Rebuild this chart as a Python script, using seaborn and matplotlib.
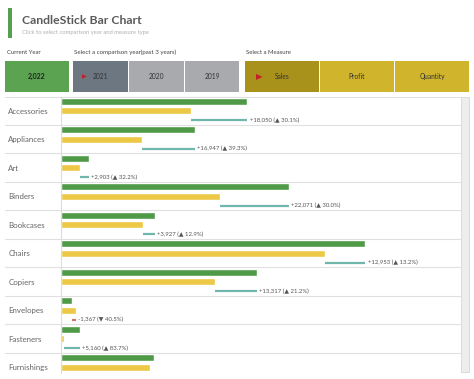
import numpy as np
import pandas as pd
import matplotlib.pyplot as plt
from matplotlib.patches import Rectangle
import seaborn as sns

# Data
categories = ['Accessories', 'Appliances', 'Art', 'Binders', 'Bookcases',
              'Chairs', 'Copiers', 'Envelopes', 'Fasteners', 'Furnishings']
sales_2022 = [59650, 42867, 8983, 72951, 30167, 97433, 62597, 3433, 6120, 29760]
sales_2021 = [41600, 25920, 6080, 50880, 26240, 84480, 49280, 4800, 960, 28480]
diff_labels = ['+18,050', '+16,947', '+2,903', '+22,071', '+3,927',
               '+12,953', '+13,317', '-1,367', '+5,160', '+1,280']
pct_labels = ['▲ 30.1%', '▲ 39.3%', '▲ 32.2%', '▲ 30.0%', '▲ 12.9%',
              '▲ 13.2%', '▲ 21.2%', '▼ 40.5%', '▲ 83.7%', '▲ 4.5%']

current_year = '2,022'
compare_years = ['2021', '2020', '2019']
measures = ['Sales', 'Profit', 'Quantity']

GREEN = '#4f9a47'
YELLOW = '#ecc846'
TEAL = '#6fb6ac'
RED = '#d0766a'

sns.set_style('white')
plt.rcParams['font.family'] = ['Lato', 'DejaVu Sans']

W, H = 474, 379
fig = plt.figure(figsize=(W / 100, H / 100), dpi=100)


def fx(x):
    return x / W


def fy(y):
    return 1 - y / H


def box(x0, y0, x1, y1, color, edge='none'):
    fig.add_artist(Rectangle((fx(x0), fy(y1)), (x1 - x0) / W, (y1 - y0) / H,
                             transform=fig.transFigure, facecolor=color,
                             edgecolor=edge, lw=0.6))


# header
box(8, 8, 12.5, 38, '#55a04c')
fig.text(fx(22), fy(20), 'CandleStick Bar Chart', fontsize=8.8, fontweight='bold',
         color='#5a5a5a', va='center', ha='left')
fig.text(fx(22), fy(32.5), 'Click to select comparison year and measure type',
         fontsize=4.2, color='#b0b0b0', va='center', ha='left')

fig.text(fx(7), fy(52.5), 'Current Year', fontsize=4.3, color='#444', va='center')
fig.text(fx(74), fy(52.5), 'Select a comparison year(past 3 years)', fontsize=4.4,
         color='#444', va='center')
fig.text(fx(246), fy(52.5), 'Select a Measure', fontsize=4.3, color='#444', va='center')

by = (61, 92)
box(5, by[0], 69, by[1], '#5ba351')
fig.text(fx(37), fy(76.5), current_year, fontsize=5, fontweight='bold', color='#222',
         ha='center', va='center')

year_x = [(73, 127.5), (129, 184), (185, 239)]
year_col = ['#6d7782', '#a8aaad', '#a8aaad']
for (x0, x1), c, lbl in zip(year_x, year_col, compare_years):
    box(x0, by[0], x1, by[1], c)
    fig.text(fx((x0 + x1) / 2), fy(76.5), lbl, fontsize=4.8, color='#333',
             ha='center', va='center')
fig.text(fx(84), fy(76.5), '▶', family='DejaVu Sans', fontsize=4.5, color='#c3202a',
         ha='center', va='center')

meas_x = [(245, 319), (319.5, 394), (395, 469)]
meas_col = ['#a8921c', '#cfb42c', '#cfb42c']
for (x0, x1), c, lbl in zip(meas_x, meas_col, measures):
    box(x0, by[0], x1, by[1], c)
    fig.text(fx((x0 + x1) / 2), fy(76.5), lbl, fontsize=4.8, color='#333',
             ha='center', va='center')
fig.text(fx(259), fy(76.5), '▶', family='DejaVu Sans', fontsize=6, color='#c3202a',
         ha='center', va='center')

# scrollbar
box(461, 97, 469, 372, '#ededed', edge='#d6d6d6')

# main chart
ax = fig.add_axes([fx(61), fy(372.5), (460 - 61) / W, (372.5 - 96.5) / H])

df = pd.DataFrame({
    'Category': categories * 3,
    'Series': ['2022'] * len(categories) + ['2021'] * len(categories) + ['gap'] * len(categories),
    'Sales': sales_2022 + sales_2021 + [0] * len(categories),
})
sns.barplot(data=df, y='Category', x='Sales', hue='Series',
            hue_order=['2022', '2021', 'gap'],
            palette={'2022': GREEN, '2021': YELLOW, 'gap': 'white'},
            orient='h', width=1.0, gap=0.3, dodge=True, legend=False,
            errorbar=None, saturation=1, ax=ax)

for i, (cur, prev) in enumerate(zip(sales_2022, sales_2021)):
    col = TEAL if cur >= prev else RED
    ax.hlines(i + 1 / 3, prev, cur, color=col, lw=1.6)
    ax.text(max(cur, prev) + 700, i + 1 / 3,
            f'{diff_labels[i]} ({pct_labels[i]})',
            fontsize=4.3, color='#555', va='center', ha='left', clip_on=True)

ax.set_xlim(0, 399 * 320)
ax.set_ylim(9.185, -0.5)
ax.set_xticks([])
ax.set_xlabel('')
ax.set_ylabel('')
ax.set_yticks(range(len(categories)))
ax.set_yticklabels(categories)
ax.tick_params(axis='y', length=0, pad=38, labelsize=5.7, labelcolor='#666')
for lbl in ax.get_yticklabels():
    lbl.set_ha('left')

for s in ['top', 'right', 'bottom']:
    ax.spines[s].set_visible(False)
ax.spines['left'].set_color('#dcdcdc')
ax.spines['left'].set_linewidth(0.8)

for b in np.arange(-0.5, 9.0, 1.0):
    ax.plot([-0.14, 1.0], [b, b], transform=ax.get_yaxis_transform(),
            color='#e0e0e0', lw=0.8, clip_on=False)

fig.savefig('out.png', dpi=100)
